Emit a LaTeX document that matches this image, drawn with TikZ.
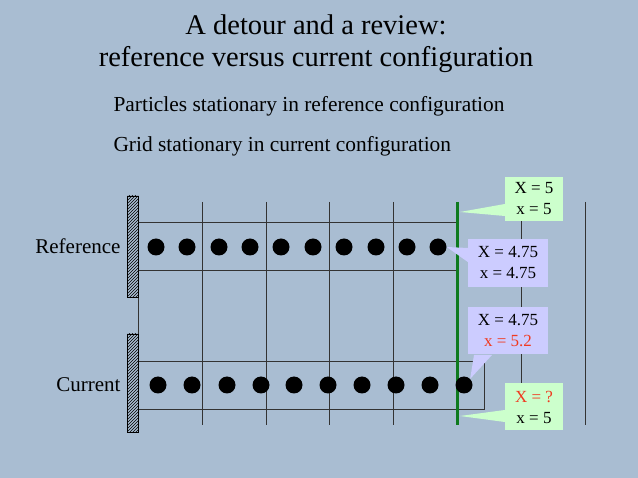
\documentclass[tikz,border=0pt]{standalone}
\usepackage{fontspec}
\setmainfont{Liberation Serif}
\usetikzlibrary{patterns,shapes.callouts}
\definecolor{bg}{HTML}{A9BDD2}
\definecolor{gfill}{HTML}{CCFFCC}
\definecolor{pfill}{HTML}{CCCCFF}
\definecolor{gline}{HTML}{0E7A1E}
\definecolor{redt}{HTML}{F03A20}
\begin{document}
\begin{tikzpicture}[x=1pt,y=-1pt,
  dot/.style={circle,fill=black,inner sep=0pt,minimum size=17pt},
  wall/.style={draw=black,pattern=north east lines,line width=0.6pt},
  gl/.style={draw=black!80,line width=0.7pt},
  gbox/.style={fill=gfill,align=center,font=\fontsize{17}{21}\selectfont,inner sep=2pt},
  pbox/.style={fill=pfill,align=center,font=\fontsize{17}{21}\selectfont,inner sep=2pt}]
\fill[bg] (0,0) rectangle (638,478);
\useasboundingbox (0,0) rectangle (638,478);
\node (t) at (316,44) [align=center,font=\fontsize{28.5}{32}\selectfont] {A detour and a review:\\reference versus current configuration};
\node (s1) at (110,106) [anchor=west,font=\fontsize{21.4}{24}\selectfont] {Particles stationary in reference configuration};
\node (s2) at (110,146) [anchor=west,font=\fontsize{21.4}{24}\selectfont] {Grid stationary in current configuration};
% grid lines
\foreach \x in {202,266,329,393,521,585} \draw[gl] (\x,202) -- (\x,425);
\draw[gl] (138,222) rectangle (457,270);
\draw[gl] (138,361) rectangle (484,409);
\draw[gl] (138,270) -- (138,361);
\draw[gline,line width=3pt] (457,202) -- (457,425);
% walls
\draw[wall] (127,196) rectangle (138,297);
\draw[wall] (127,334) rectangle (138,432);
\node (ref) at (124,246) [anchor=east,font=\fontsize{21}{24}\selectfont] {Reference};
\node (cur) at (124,385) [anchor=east,font=\fontsize{21}{24}\selectfont] {Current};
\foreach \x [count=\i] in {156,187,219,250,281,313,344,376,407,438} \node[dot] (r\i) at (\x,247) {};
\foreach \x [count=\i] in {158,192,227,261,294,328,362,396,430,464} \node[dot] (c\i) at (\x,385) {};
% callouts
\node[gbox,minimum width=58pt,minimum height=44pt] (b1) at (534,199) {X = 5\\x = 5};
\coordinate (p1) at (460,212);
\fill[gfill] (p1) -- (b1.west |- 0,204) -- (b1.west |- 0,216) -- cycle;
\node[pbox,minimum width=80pt,minimum height=48pt] (b2) at (508,263) {X = 4.75\\x = 4.75};
\fill[pfill] (r10.east) -- (b2.west |- 0,248) -- (b2.west |- 0,262) -- cycle;
\node[pbox,minimum width=80pt,minimum height=47pt] (b3) at (508,331) {X = 4.75\\\textcolor{redt}{x = 5.2}};
\fill[pfill] (c10.north east) -- (474,355) -- (492,355) -- cycle;
\node[gbox,minimum width=58pt,minimum height=47pt] (b4) at (534,407) {\textcolor{redt}{X = ?}\\x = 5};
\coordinate (p4) at (460,416);
\fill[gfill] (p4) -- (b4.west |- 0,410) -- (b4.west |- 0,422) -- cycle;
\end{tikzpicture}
\end{document}
